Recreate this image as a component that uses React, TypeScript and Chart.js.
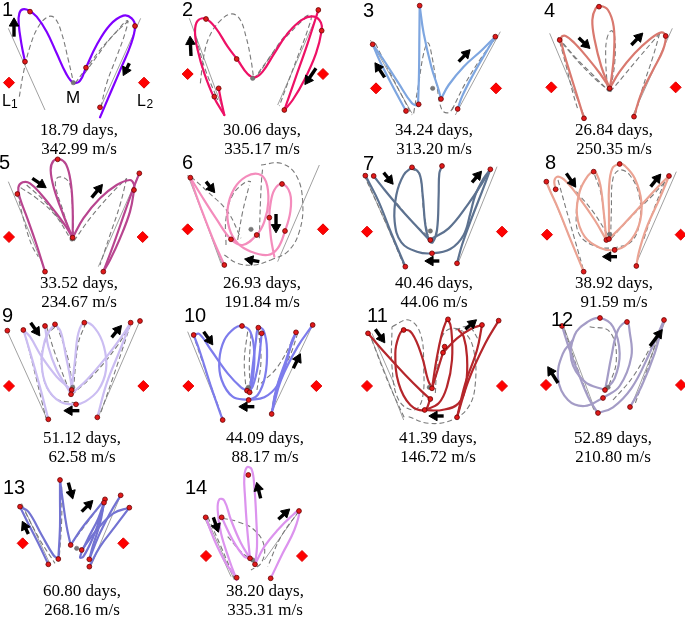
import React, { useEffect, useRef } from "react";
import { Chart, registerables } from "chart.js";
Chart.register(...registerables);

// ---- data (panel-local units: 1/3 px of each panel box, y downward) ----
const daysValues = ["18.79", "30.06", "34.24", "26.84", "33.52", "26.93", "40.46", "38.92", "51.12", "44.09", "41.39", "52.89", "60.80", "38.20"];
const speedValues = ["342.99", "335.17", "313.20", "250.35", "234.67", "191.84", "44.06", "91.59", "62.58", "88.17", "146.72", "210.80", "268.16", "335.31"];
const panelColors = ["#8000ff", "#ee1166", "#7ea6e0", "#d9796f", "#b8458f", "#f48cbc", "#5d7290", "#eba393", "#cbbdf2", "#7d7cec", "#b5262b", "#a49cc6", "#7373d2", "#dc93ee"];

const p1Main = [[75,185, 64,130, 56,70, 58,40, 68,28, 88,32, 110,50, 140,95, 170,160, 198,220, 220,248, 240,242, 258,203, 290,135, 330,75, 370,47, 395,55, 405,80, 392,135, 365,200, 335,270, 300,352]];
const p1Dash = [[58,290, 70,220, 90,140, 115,80, 145,50, 165,55, 185,100, 205,180, 220,245], [225,250, 255,210, 300,150, 345,100, 382,62, 375,100, 350,170, 320,250, 302,325], [240,240, 290,170, 340,105, 385,63]];
const p1Guide = [[25,85, 135,330], [422,55, 298,330]];
const p1Dots = [90,35, 75,185, 258,203, 405,78, 300,322];
const p1Grey = [220,248];
const p1Diamonds = [27,248, 432,248];
const p1Arrows = [[42,110, 42,70], [388,190, 377,212]];

const p2Main = [[143,265, 152,310, 160,345], [160,345, 128,290, 100,220, 80,150, 72,95, 80,62, 105,57, 135,85, 170,140, 200,180, 230,222, 252,232, 275,215, 310,160, 350,100, 395,58, 430,50, 450,68, 452,92, 435,160, 400,240, 365,300, 340,330], [340,330, 375,230, 410,130, 442,30]];
const p2Dash = [[88,250, 98,170, 115,110, 145,65, 180,42, 205,55, 225,110, 240,180, 248,235], [248,238, 290,180, 340,110, 390,60, 420,45, 410,90, 380,170, 350,250, 325,318], [260,225, 320,140, 380,75, 410,48], [70,90, 100,200, 140,300]];
const p2Guide = [[55,55, 160,340], [445,30, 320,315]];
const p2Dots = [105,57, 197,177, 143,265, 130,290, 340,330, 452,92, 442,30];
const p2Grey = [245,235];
const p2Diamonds = [50,222, 456,222];
const p2Arrows = [[60,168, 58,125], [435,205, 411,240]];

const p3Main = [[192,333, 150,255, 112,180, 92,133], [92,133, 125,180, 170,250, 210,310, 228,318], [228,318, 231,220, 232,120, 233,17], [233,17, 245,100, 268,200, 290,270, 297,297], [297,297, 320,255, 365,200, 420,150, 460,110], [460,110, 430,160, 390,230, 360,290, 347,327]];
const p3Dash = [[100,130, 150,230, 210,345], [215,340, 230,250, 245,160, 258,128, 270,170, 285,260, 300,330, 320,338, 335,320], [330,330, 370,250, 420,170, 460,115]];
const p3Guide = [[85,120, 210,340], [475,95, 340,345]];
const p3Dots = [233,17, 92,133, 192,333, 230,313, 297,297, 347,327, 460,110];
const p3Grey = [272,265];
const p3Diamonds = [102,265, 462,265];
const p3Arrows = [[128,232, 108,202], [350,185, 373,161]];

const p4Main = [[213,355, 190,280, 165,200, 148,140, 145,112, 158,108, 185,130, 225,175, 262,222, 290,265], [290,265, 265,200, 245,120, 238,60, 248,25, 262,18, 285,30, 302,80, 303,160, 296,230, 290,265], [290,265, 320,215, 365,160, 410,118, 445,97, 458,108, 450,150, 420,210, 385,280, 363,350]];
const p4Dash = [[283,262, 278,170, 282,115, 295,92, 305,110, 305,190, 292,270], [135,112, 190,175, 240,225, 283,268, 295,275], [140,125, 160,200, 180,280, 195,330], [292,275, 330,230, 380,170, 440,100], [440,100, 420,170, 390,260, 368,340], [148,130, 200,190, 250,240, 288,272]];
const p4Guide = [[110,100, 215,350], [478,85, 360,345]];
const p4Dots = [258,20, 140,120, 213,355, 290,265, 458,108, 363,350];
const p4Grey = [288,268];
const p4Diamonds = [115,262, 488,262];
const p4Arrows = [[197,113, 219,134], [355,135, 378,111]];

const p5Main = [[135,380, 110,300, 82,220, 60,160, 55,128, 68,112, 90,115, 125,150, 165,200, 198,245, 218,278], [218,278, 190,210, 162,130, 152,75, 160,48, 178,42, 198,58, 212,110, 218,190, 218,278], [218,278, 250,220, 300,160, 350,120, 390,105, 402,118, 402,135, 390,200, 360,280, 330,345, 310,380], [310,380, 340,300, 375,200, 400,130, 418,85]];
const p5Dash = [[215,285, 190,200, 168,130, 170,100, 192,98, 210,120, 218,200, 220,280], [52,145, 70,220, 95,300, 115,335], [62,128, 110,160, 165,210, 212,282], [222,288, 270,220, 330,150, 380,100], [380,100, 360,180, 330,270, 300,360], [80,120, 135,170, 190,240]];
const p5Guide = [[25,110, 135,375], [420,80, 295,365]];
const p5Dots = [173,43, 52,147, 135,380, 218,278, 418,85, 402,135, 310,380];
const p5Grey = [216,282];
const p5Diamonds = [27,276, 428,276];
const p5Arrows = [[97,100, 125,119], [275,158, 297,131]];

const p6Main = [[160,360, 125,280, 90,190, 65,120, 58,98], [58,98, 90,150, 135,220, 180,283, 215,300, 257,270, 280,230, 292,170, 285,110, 262,87, 225,95, 190,130, 170,190, 175,250, 200,295, 240,320, 290,330, 320,310, 342,258, 358,200, 357,145, 333,117, 310,135, 298,180, 295,218, 300,280, 310,335]];
const p6Dash = [[270,60, 330,55, 375,90, 395,170, 385,260, 350,320, 300,345], [160,330, 200,355, 250,360, 300,345], [165,300, 165,220, 185,150, 225,110, 240,110], [200,285, 215,200, 235,120], [265,280, 268,180, 272,100, 275,70], [60,95, 110,140, 170,200, 210,280]];
const p6Guide = [[50,90, 155,360], [55,95, 150,355], [445,60, 320,350]];
const p6Dots = [58,98, 160,360, 180,283, 257,270, 295,218, 333,117, 342,258];
const p6Grey = [240,253];
const p6Diamonds = [50,253, 456,253];
const p6Arrows = [[105,110, 121,130], [315,207, 315,247], [265,350, 237,345]];

const p7Main = [[190,365, 150,270, 110,170, 80,110, 70,92], [95,93, 120,125, 170,185, 220,240, 262,285], [210,67, 232,85, 242,150, 250,240, 262,288, 272,292, 285,255, 290,150, 292,85, 300,63], [210,67, 185,90, 163,150, 158,230, 178,292, 225,320, 270,325, 325,312, 365,270, 385,205, 400,150, 425,100, 445,73], [262,285, 320,250, 380,175, 420,115, 445,73], [445,73, 420,140, 385,230, 360,300, 345,355]];
const p7Dash = [[165,175, 210,230, 260,275], [205,70, 232,88, 245,200, 258,270], [65,88, 130,230, 185,360]];
const p7Guide = [[65,85, 188,362], [465,65, 350,350]];
const p7Dots = [70,92, 95,93, 210,67, 300,63, 265,285, 270,325, 190,365, 345,355, 445,73];
const p7Grey = [265,258];
const p7Diamonds = [75,260, 480,260];
const p7Arrows = [[125,83, 143,105], [390,112, 408,91], [292,348, 265,348]];

const p8Main = [[212,380, 175,290, 135,190, 110,135, 100,110], [128,133, 124,108, 135,95, 160,110, 200,160, 245,225, 280,285], [280,285, 272,200, 262,120, 250,85, 242,80, 225,92, 200,140, 192,210, 215,275, 260,308, 305,315, 345,295, 378,240, 385,170, 365,100, 335,62, 320,57, 298,70, 288,130, 288,200, 288,282], [288,282, 330,240, 390,175, 440,120, 468,93], [468,93, 440,160, 400,250, 378,320, 370,363]];
const p8Dash = [[135,105, 170,230, 210,370], [190,140, 240,200, 285,270], [245,90, 265,150, 278,265], [205,120, 190,200, 200,270, 250,305, 300,310], [300,310, 355,290, 380,230, 378,150, 350,90, 320,75, 300,100, 295,200, 293,280], [295,280, 350,220, 420,150, 465,100], [455,110, 420,200, 390,290]];
const p8Guide = [[100,108, 210,375], [490,80, 372,350]];
const p8Dots = [100,110, 128,133, 242,80, 320,57, 280,285, 288,282, 305,315, 468,93, 212,380, 370,363];
const p8Grey = [290,268];
const p8Diamonds = [102,269, 503,269];
const p8Arrows = [[160,85, 179,113], [413,125, 433,100], [312,335, 285,335]];

const p9Main = [[145,358, 125,280, 100,190, 78,115, 70,90], [70,90, 90,110, 125,170, 170,230, 205,262, 215,270], [135,78, 145,140, 170,210, 200,260, 213,283], [165,73, 182,95, 198,170, 212,240, 215,270], [215,270, 225,180, 235,100, 253,68, 285,85, 312,140, 318,210, 295,270, 255,305, 228,313, 180,305, 140,260, 125,190, 135,120, 150,90, 165,73], [213,283, 260,240, 320,170, 365,110, 392,68], [392,68, 360,150, 320,250, 292,352]];
const p9Dash = [[72,92, 100,200, 138,355], [140,80, 165,160, 205,265], [170,75, 205,180, 218,275], [220,270, 235,130, 255,75], [230,310, 160,290, 125,200, 140,110, 170,75], [215,285, 280,225, 350,140, 392,72], [392,72, 350,200, 300,345]];
const p9Guide = [[20,90, 140,355], [420,62, 295,350]];
const p9Dots = [22,92, 70,90, 135,78, 165,73, 253,68, 392,68, 420,63, 215,270, 213,283, 228,313, 145,358, 292,352];
const p9Grey = [218,262];
const p9Diamonds = [27,258, 430,258];
const p9Arrows = [[92,68, 110,94], [335,112, 354,89], [238,332, 208,332]];

const p10Main = [[155,360, 120,260, 85,150, 68,105], [68,105, 85,102, 120,150, 170,220, 210,262, 228,272], [233,300, 185,290, 152,240, 145,180, 160,120, 190,85, 213,78, 238,95, 250,160, 245,240, 236,277], [236,277, 245,200, 255,120, 262,83, 278,92, 288,150, 282,230, 260,285, 233,300], [233,300, 280,292, 320,255, 345,190, 362,125, 375,97], [272,100, 262,190, 245,260, 230,275], [375,97, 345,180, 315,270, 302,342], [425,75, 380,140, 330,240, 305,330]];
const p10Dash = [[65,100, 110,230, 155,355], [230,95, 220,180, 225,270], [262,90, 270,180, 258,270], [240,100, 235,200, 240,280], [300,340, 320,250, 360,160, 380,100], [270,250, 320,200, 370,110]];
const p10Guide = [[50,95, 155,355], [425,75, 300,340]];
const p10Dots = [68,105, 213,78, 262,83, 272,100, 375,97, 425,75, 228,272, 236,277, 233,300, 155,360, 302,342];
const p10Grey = [232,262];
const p10Diamonds = [52,258, 436,258];
const p10Arrows = [[98,95, 116,121], [367,205, 381,176], [250,320, 220,320]];

const p11Main = [[78,100, 130,160, 190,225, 240,275, 265,297], [265,297, 248,330, 205,315, 170,250, 160,160, 170,110, 185,90, 210,100, 240,170, 258,240, 270,265], [270,265, 285,170, 300,100, 312,65, 318,58, 328,90, 330,180, 315,260, 290,310, 248,330], [248,330, 300,330, 350,310, 372,250, 375,170, 365,110, 350,90], [270,265, 290,200, 303,158, 308,140], [303,158, 345,115, 390,85, 420,75], [420,75, 405,150, 370,250, 345,352], [345,352, 380,240, 430,130, 470,62]];
const p11Dash = [[150,80, 200,60, 235,100, 245,200, 240,300, 215,330, 170,300, 150,200, 150,80], [80,95, 140,250, 190,360], [200,350, 260,370, 330,360, 380,320, 400,250, 395,150, 370,100, 330,85, 300,110, 285,200, 280,280], [340,90, 380,80, 410,120]];
const p11Guide = [[80,95, 185,360], [90,100, 160,260]];
const p11Dots = [78,100, 185,90, 318,58, 308,140, 303,158, 270,265, 265,297, 248,330, 345,352, 420,75, 470,62];
const p11Grey = [262,262];
const p11Diamonds = [75,258, 480,258];
const p11Arrows = [[100,88, 119,115], [370,88, 391,70], [305,348, 277,348]];

const p12Main = [[147,78, 170,150, 200,230, 230,300, 255,339], [276,270, 215,245, 175,180, 185,105, 225,65, 261,54, 300,80, 320,160, 305,235, 276,270], [270,294, 215,318, 165,300, 135,235, 150,160, 180,120], [270,294, 320,258, 355,170, 350,95, 342,66, 315,90, 295,170, 282,240, 276,270], [255,339, 300,322, 355,265, 405,170, 453,60], [453,60, 425,160, 385,260, 351,321]];
const p12Dash = [[155,90, 195,210, 245,335], [230,80, 290,95, 310,180, 285,265], [300,300, 360,230, 430,110], [440,90, 405,200, 365,315]];
const p12Guide = [[150,75, 250,340], [458,60, 352,325]];
const p12Dots = [147,78, 261,54, 342,66, 453,60, 276,270, 270,294, 255,339, 351,321];
const p12Grey = [285,262];
const p12Diamonds = [99,255, 504,255];
const p12Arrows = [[135,249, 113,214], [411,138, 438,102]];

const p13Main = [[145,313, 115,250, 82,185, 60,140], [60,140, 85,155, 125,225, 160,285, 175,297], [175,297, 180,200, 180,110, 180,60], [180,60, 188,120, 200,200, 212,255], [212,255, 245,205, 285,155, 315,118], [315,118, 295,175, 262,240, 240,292, 250,290, 280,230, 305,160, 312,128], [312,128, 300,190, 278,260, 268,298], [268,298, 295,230, 330,160, 362,106], [268,320, 300,260, 345,200, 388,143], [245,270, 290,210, 340,160, 388,143]];
const p13Dash = [[65,135, 120,240, 165,310], [185,80, 185,180, 178,290], [215,250, 260,190, 305,130]];
const p13Guide = [[65,130, 150,312], [362,106, 272,320]];
const p13Dots = [60,140, 180,60, 145,313, 175,297, 212,255, 245,270, 268,298, 268,320, 315,118, 312,128, 362,106, 388,143];
const p13Grey = [230,265];
const p13Diamonds = [68,250, 370,250];
const p13Arrows = [[85,222, 74,199], [205,68, 214,101], [245,155, 267,133]];

const p14Main = [[104,172, 130,240, 165,310, 197,353], [197,360, 175,300, 150,220, 140,150, 145,118, 160,122, 180,180, 210,250, 237,295], [237,295, 228,200, 222,110, 220,50, 228,22, 242,28, 250,80, 256,180, 258,260, 252,313], [252,313, 280,260, 320,210, 360,170, 384,153, 370,210, 335,280, 299,355], [152,172, 185,240, 220,290, 237,295]];
const p14Dash = [[110,170, 150,260, 190,355], [155,175, 200,185, 250,210, 280,260, 270,310, 240,330], [170,230, 215,280, 245,300], [384,153, 330,230, 290,320]];
const p14Guide = [[104,168, 190,360], [100,172, 180,350], [384,153, 280,300]];
const p14Dots = [104,172, 152,172, 232,45, 197,353, 237,295, 252,313, 384,153, 299,355];
const p14Grey = [245,300];
const p14Diamonds = [105,288, 393,288];
const p14Arrows = [[127,172, 137,201], [269,115, 261,83], [322,178, 344,158]];

// ---- layout (px) ----
const panelFrames = [
  [0, 0, 171, 150], [171, 0, 171, 150], [342, 0, 171, 150], [513, 0, 172, 150],
  [0, 145, 171, 160], [171, 145, 171, 160], [342, 145, 171, 160], [513, 145, 172, 160],
  [0, 300, 171, 160], [171, 300, 171, 160], [342, 300, 171, 160], [513, 300, 172, 160],
  [0, 460, 171, 160], [171, 460, 171, 160],
];
const numberPos = [[2, -2], [182, -2], [363, -1], [544, -1], [-1, 151], [182, 151], [363, 152], [545, 151], [2, 304], [184, 304], [367, 304], [551, 308], [3, 476], [185, 476]];
const labelPos = [[79, 120], [262, 120], [434, 120], [614, 120], [79, 273], [262, 273], [434, 273], [614, 273], [82, 428], [265, 428], [438, 428], [613, 428], [82, 581], [265, 581]];

const panelSeries = [
  { main: p1Main, dash: p1Dash, guide: p1Guide, dots: p1Dots, grey: p1Grey, diamonds: p1Diamonds, arrows: p1Arrows },
  { main: p2Main, dash: p2Dash, guide: p2Guide, dots: p2Dots, grey: p2Grey, diamonds: p2Diamonds, arrows: p2Arrows },
  { main: p3Main, dash: p3Dash, guide: p3Guide, dots: p3Dots, grey: p3Grey, diamonds: p3Diamonds, arrows: p3Arrows },
  { main: p4Main, dash: p4Dash, guide: p4Guide, dots: p4Dots, grey: p4Grey, diamonds: p4Diamonds, arrows: p4Arrows },
  { main: p5Main, dash: p5Dash, guide: p5Guide, dots: p5Dots, grey: p5Grey, diamonds: p5Diamonds, arrows: p5Arrows },
  { main: p6Main, dash: p6Dash, guide: p6Guide, dots: p6Dots, grey: p6Grey, diamonds: p6Diamonds, arrows: p6Arrows },
  { main: p7Main, dash: p7Dash, guide: p7Guide, dots: p7Dots, grey: p7Grey, diamonds: p7Diamonds, arrows: p7Arrows },
  { main: p8Main, dash: p8Dash, guide: p8Guide, dots: p8Dots, grey: p8Grey, diamonds: p8Diamonds, arrows: p8Arrows },
  { main: p9Main, dash: p9Dash, guide: p9Guide, dots: p9Dots, grey: p9Grey, diamonds: p9Diamonds, arrows: p9Arrows },
  { main: p10Main, dash: p10Dash, guide: p10Guide, dots: p10Dots, grey: p10Grey, diamonds: p10Diamonds, arrows: p10Arrows },
  { main: p11Main, dash: p11Dash, guide: p11Guide, dots: p11Dots, grey: p11Grey, diamonds: p11Diamonds, arrows: p11Arrows },
  { main: p12Main, dash: p12Dash, guide: p12Guide, dots: p12Dots, grey: p12Grey, diamonds: p12Diamonds, arrows: p12Arrows },
  { main: p13Main, dash: p13Dash, guide: p13Guide, dots: p13Dots, grey: p13Grey, diamonds: p13Diamonds, arrows: p13Arrows },
  { main: p14Main, dash: p14Dash, guide: p14Guide, dots: p14Dots, grey: p14Grey, diamonds: p14Diamonds, arrows: p14Arrows },
];

function toPts(flat: number[]) {
  const out: { x: number; y: number }[] = [];
  for (let i = 0; i + 1 < flat.length; i += 2) out.push({ x: flat[i], y: flat[i + 1] });
  return out;
}

function Panel({ idx }: { idx: number }) {
  const ref = useRef<HTMLCanvasElement>(null);
  const [left, top, w, h] = panelFrames[idx];
  useEffect(() => {
    const s = panelSeries[idx];
    const color = panelColors[idx];
    const ds: any[] = [];
    // top-most first
    ds.push({ data: toPts(s.diamonds), showLine: false, pointStyle: "rectRot", pointRadius: 5.5, pointBackgroundColor: "#ff0000", pointBorderColor: "#e00000", pointBorderWidth: 1, clip: false });
    ds.push({ data: toPts(s.dots), showLine: false, pointStyle: "circle", pointRadius: 2.4, pointBackgroundColor: "#e01a1a", pointBorderColor: "#6a0000", pointBorderWidth: 0.8, clip: false });
    ds.push({ data: toPts(s.grey), showLine: false, pointStyle: "circle", pointRadius: 2.2, pointBackgroundColor: "#777", pointBorderColor: "#666", pointBorderWidth: 0.5, clip: false });
    s.arrows.forEach((a) => {
      const ang = (Math.atan2(a[2] - a[0], -(a[3] - a[1])) * 180) / Math.PI;
      ds.push({ data: toPts(a), showLine: true, borderColor: "#000", borderWidth: 3.4, borderCapStyle: "butt", tension: 0, pointStyle: "triangle", pointRadius: [0, 5.5], pointRotation: [0, ang], pointBackgroundColor: "#000", pointBorderColor: "#000", pointBorderWidth: 1, clip: false });
    });
    s.main.forEach((seg) => {
      ds.push({ data: toPts(seg), showLine: true, borderColor: color, borderWidth: 2.2, tension: 0.4, pointRadius: 0, clip: false, borderCapStyle: "round", borderJoinStyle: "round" });
    });
    s.dash.forEach((seg) => {
      ds.push({ data: toPts(seg), showLine: true, borderColor: "#7a7a7a", borderWidth: 1.1, borderDash: [5, 3], tension: 0.4, pointRadius: 0, clip: false });
    });
    s.guide.forEach((seg) => {
      ds.push({ data: toPts(seg), showLine: true, borderColor: "#a0a0a0", borderWidth: 1, tension: 0, pointRadius: 0, clip: false });
    });
    const chart = new Chart(ref.current as HTMLCanvasElement, {
      type: "scatter",
      data: { datasets: ds },
      options: {
        responsive: false,
        devicePixelRatio: 1,
        animation: false,
        events: [],
        layout: { padding: 0, autoPadding: false },
        plugins: { legend: { display: false }, tooltip: { enabled: false } },
        scales: {
          x: { type: "linear", min: 0, max: w * 3, display: false },
          y: { type: "linear", min: 0, max: h * 3, reverse: true, display: false },
        },
      } as any,
    });
    return () => chart.destroy();
  }, [idx]);
  return <canvas ref={ref} width={w} height={h} style={{ position: "absolute", left, top, width: w, height: h }} />;
}

const sans = "'Liberation Sans', Arial, sans-serif";
const serif = "'Liberation Serif', 'Times New Roman', serif";

export default function App() {
  return (
    <div style={{ position: "absolute", left: 0, top: 0, width: 685, height: 620, background: "#fff", overflow: "hidden" }}>
      {panelFrames.map((_, i) => (
        <Panel key={i} idx={i} />
      ))}
      {numberPos.map(([x, y], i) => (
        <div key={"n" + i} style={{ position: "absolute", left: x, top: y, fontFamily: sans, fontSize: 20, lineHeight: "23px", color: "#000" }}>
          {i + 1}
        </div>
      ))}
      {labelPos.map(([cx, y], i) => (
        <div key={"l" + i} style={{ position: "absolute", left: cx - 70, top: y, width: 140, textAlign: "center", fontFamily: serif, fontSize: 17, lineHeight: "19px", color: "#000" }}>
          {daysValues[i]} days,
          <br />
          {speedValues[i]} m/s
        </div>
      ))}
      <div style={{ position: "absolute", left: 66, top: 87.5, fontFamily: sans, fontSize: 17, lineHeight: "20px" }}>M</div>
      <div style={{ position: "absolute", left: 2, top: 91, fontFamily: sans, fontSize: 16, lineHeight: "19px" }}>L</div>
      <div style={{ position: "absolute", left: 11, top: 97, fontFamily: sans, fontSize: 12, lineHeight: "14px" }}>1</div>
      <div style={{ position: "absolute", left: 137, top: 91, fontFamily: sans, fontSize: 16, lineHeight: "19px" }}>L</div>
      <div style={{ position: "absolute", left: 146.5, top: 97, fontFamily: sans, fontSize: 12, lineHeight: "14px" }}>2</div>
    </div>
  );
}
